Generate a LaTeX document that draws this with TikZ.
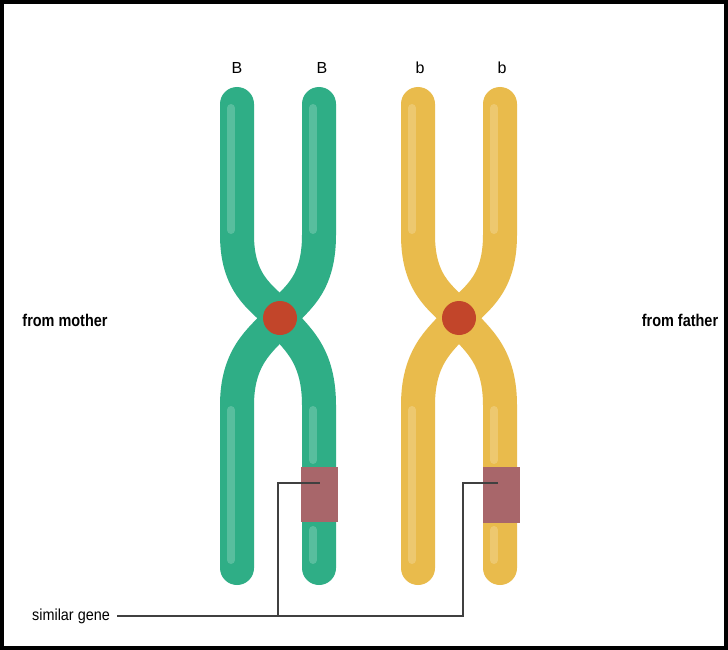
\documentclass[tikz,border=0pt]{standalone}
\usepackage{fontspec}
\setmainfont{Liberation Sans}
\begin{document}
\begin{tikzpicture}[x=1pt,y=-1pt,
  chrom/.style={line width=34pt,line cap=round},
  shine/.style={line width=8pt,line cap=round,opacity=0.2,white},
  lbl/.style={font=\fontsize{16}{18}\selectfont},
  side/.style={font=\bfseries\fontsize{17}{19}\selectfont,xscale=0.85},
  lead/.style={line width=1.1pt,draw=black!75}]
\useasboundingbox (0,0) rectangle (728,650);
\fill[white] (0,0) rectangle (728,650);
\draw[line width=4pt] (2,2) rectangle (726,648);
\definecolor{grn}{HTML}{2FAE86}
\definecolor{yel}{HTML}{E9BB4C}
\definecolor{cen}{HTML}{C2452A}
\definecolor{band}{HTML}{A8666A}
\foreach \xo/\c/\cx in {237/grn/280, 418/yel/459}{
  \pgfmathsetmacro{\xr}{\xo+82}
  \draw[chrom,\c] (\xo,104) -- (\xo,235) .. controls (\xo,290) and (\cx-12,300) .. (\cx,318)
     .. controls (\cx-12,336) and (\xo,350) .. (\xo,405) -- (\xo,568);
  \draw[chrom,\c] (\xr,104) -- (\xr,235) .. controls (\xr,290) and (\cx+12,300) .. (\cx,318)
     .. controls (\cx+12,336) and (\xr,350) .. (\xr,405) -- (\xr,568);
  \draw[shine] (\xo-6,108) -- (\xo-6,230);
  \draw[shine] (\xr-6,108) -- (\xr-6,230);
  \draw[shine] (\xo-6,410) -- (\xo-6,560);
  \draw[shine] (\xr-6,410) -- (\xr-6,460);
  \draw[shine] (\xr-6,530) -- (\xr-6,560);
}
\fill[band] (301,467) rectangle (338,522);
\fill[band] (483,467) rectangle (520,523);
\node[circle,fill=cen,minimum size=34pt,inner sep=0] (c1) at (280,318) {};
\node[circle,fill=cen,minimum size=34pt,inner sep=0] (c2) at (459,318) {};
\node[lbl] (l1) at (237,68) {B};
\node[lbl] (l2) at (322,68) {B};
\node[lbl] (l3) at (420,68) {b};
\node[lbl] (l4) at (502,68) {b};
\node[side] (m) at (65,320) {from mother};
\node[side] (f) at (680,320) {from father};
\node[font=\fontsize{16}{18}\selectfont,xscale=0.9,anchor=east] (s) at (113,616) {similar gene};
\coordinate (j1) at (278,616);
\coordinate (j2) at (463,616);
\coordinate (g1) at (320,483);
\coordinate (g2) at (498,483);
\draw[lead] (s.east) ++(4,0) -- (j2) |- (g2);
\draw[lead] (j1) |- (g1);
\end{tikzpicture}
\end{document}
